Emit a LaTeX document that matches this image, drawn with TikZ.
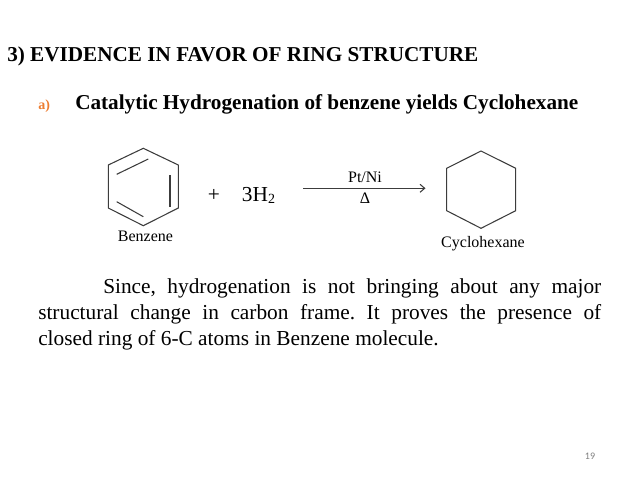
\documentclass[tikz,border=0pt]{standalone}
\usepackage{fontspec}
\setmainfont{Liberation Serif}
\newfontfamily\numfont{Carlito}
\usepackage{tikz}
\usetikzlibrary{arrows.meta}
\definecolor{bulletorange}{RGB}{237,125,49}
\definecolor{bondgray}{RGB}{60,60,60}
\tikzset{
	headtext/.style={anchor=base west,inner sep=0pt,font=\fontsize{15.9pt}{18pt}\selectfont\bfseries},
	chemlabel/.style={anchor=base,inner sep=0pt,font=\fontsize{12pt}{14pt}\selectfont},
	reactant/.style={anchor=base,inner sep=0pt,font=\fontsize{16pt}{18pt}\selectfont},
	bond/.style={draw=bondgray,line width=0.8pt}
}
\begin{document}
\begin{tikzpicture}[x=0.75pt,y=-0.75pt]
		\useasboundingbox (0,0) rectangle (638,478);
		\node[headtext] (title) at (7,62) {3) EVIDENCE IN FAVOR OF RING STRUCTURE};
		\node[anchor=base west,inner sep=0pt,text=bulletorange,font=\fontsize{10.5pt}{12pt}\selectfont\bfseries] (bullet) at (38,109) {a)};
		\node[headtext] (sub) at (75,109) {Catalytic Hydrogenation of benzene yields Cyclohexane};
		
		% benzene
		\draw[bond] (143.3,148.3) -- (178.3,165) -- (178.3,208) -- (143.3,225.7) -- (108.3,208) -- (108.3,165) -- cycle;
		\draw[bond] (116.7,174.3) -- (148.3,159);
		\draw[bond] (170,175) -- (170,206.7);
		\draw[bond] (116.7,201.7) -- (143.3,216.7);
		\node[chemlabel] (benzene) at (145.5,241) {Benzene};
		
		\node[reactant] (plus) at (214,201) {+};
		\node[reactant] (hydrogen) at (258.5,201) {3H\raisebox{-0.3ex}{\fontsize{10.5pt}{12pt}\selectfont 2}};
		
		% arrow
		\coordinate (arrowstart) at (303,188.3);
		\coordinate (arrowend) at (425.5,188.3);
		\draw[bond,-{Straight Barb[length=3.5pt,width=6pt]}] (arrowstart) -- (arrowend);
		\node[chemlabel] (catalyst) at (365,182) {Pt/Ni};
		\node[chemlabel] (heat) at (365,203) {Δ};
		
		% cyclohexane
		\draw[bond] (481,151) -- (515.7,168.3) -- (515.7,210.7) -- (481,228.3) -- (446.7,210.7) -- (446.7,168.3) -- cycle;
		\node[chemlabel] (cyclohexane) at (483,247) {Cyclohexane};
		
		\node[anchor=north west,inner sep=0pt,text width=422.25pt,align=justify,font=\frenchspacing\fontsize{16pt}{19.5pt}\selectfont] (body) at (38,278) {\hspace*{48.75pt}Since, hydrogenation is not bringing about any major\linebreak structural change in carbon frame. It proves the presence of\linebreak closed ring of 6-C atoms in Benzene molecule.};
		
		\node[anchor=base,inner sep=0pt,text=gray,font=\numfont\fontsize{7.5pt}{9pt}\selectfont] (pagenum) at (590,459) {19};
\end{tikzpicture}
\end{document}
